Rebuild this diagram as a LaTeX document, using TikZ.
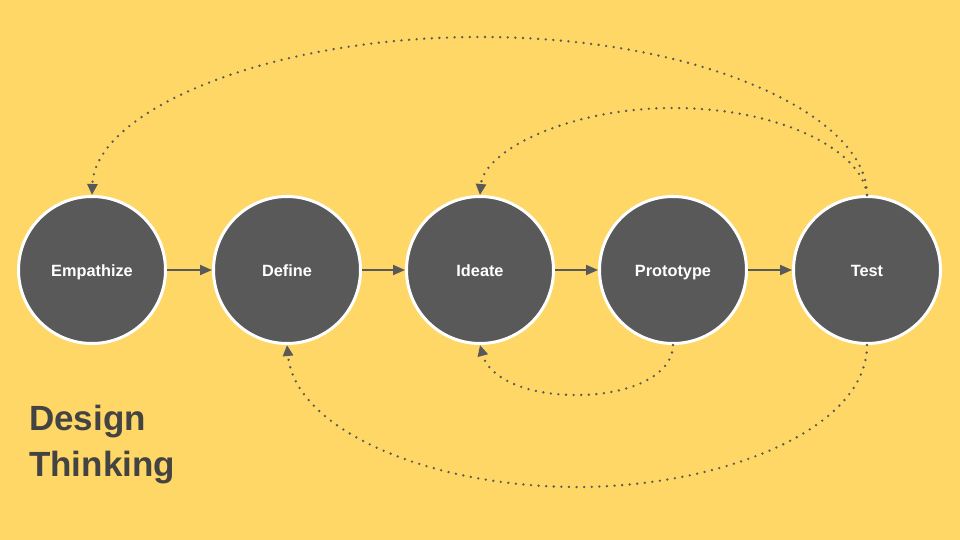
\documentclass[tikz,border=0pt]{standalone}
\usepackage{fontspec}
\setmainfont{Liberation Sans}
\usetikzlibrary{arrows.meta}
\definecolor{bgyellow}{HTML}{FED766}
\definecolor{disc}{HTML}{595959}
\definecolor{titlegray}{HTML}{434343}
\tikzset{
  stage/.style={circle, minimum size=147pt, inner sep=0pt, fill=disc, draw=white, line width=3pt,
    text=white, text height=12pt, text depth=0pt, font=\fontsize{16.3}{19}\selectfont\bfseries},
  flow/.style={draw=disc, line width=1.9pt, -{Triangle[length=12pt,width=10pt]}},
  loopback/.style={draw=disc, line width=2.6pt, line cap=round, dash pattern=on 0pt off 7.6pt,
    -{Triangle[length=11pt,width=10pt]}},
}
\begin{document}
\begin{tikzpicture}[x=1pt,y=-1pt]
\fill[bgyellow] (0,0) rectangle (960,540);
\useasboundingbox (0,0) rectangle (960,540);
\node[stage] (emp) at (92,270) {Empathize};
\node[stage] (def) at (287,270) {Define};
\node[stage] (ide) at (480,270) {Ideate};
\node[stage] (pro) at (673,270) {Prototype};
\node[stage] (tst) at (867,270) {Test};
\draw[flow] (emp) -- (def);
\draw[flow] (def) -- (ide);
\draw[flow] (ide) -- (pro);
\draw[flow] (pro) -- (tst);
\coordinate (toppeak) at (480,37);
\coordinate (midpeak) at (673,108);
\coordinate (lowbot) at (577,395);
\coordinate (bigbot) at (577,487);
% Test -> Empathize (big top arc)
\draw[loopback] (tst.north) .. controls (867,115) and (700,37) .. (toppeak)
  .. controls (270,37) and (95,110) .. (emp.north);
% Test -> Ideate (small top arc)
\draw[loopback] (tst.north) .. controls (862,150) and (780,108) .. (midpeak)
  .. controls (570,108) and (484,150) .. (ide.north);
% Prototype -> Ideate (small bottom arc)
\draw[loopback] (pro.south) .. controls (673,375) and (630,395) .. (lowbot)
  .. controls (520,395) and (488,375) .. (ide.south);
% Test -> Define (big bottom arc)
\draw[loopback] (tst.south) .. controls (867,430) and (720,487) .. (bigbot)
  .. controls (430,487) and (295,430) .. (def.south);
\node[anchor=north west, align=left, text=titlegray, inner sep=0pt,
  font=\fontsize{35}{46}\selectfont\bfseries] (title) at (29,405) {Design\\Thinking};
\end{tikzpicture}
\end{document}
